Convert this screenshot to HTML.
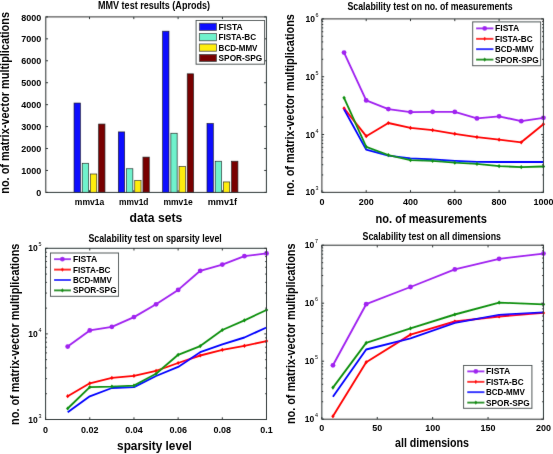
<!DOCTYPE html>
<html><head><meta charset="utf-8"><title>Scalability results</title>
<style>html,body{margin:0;padding:0;background:#fff;}svg{display:block;}</style>
</head><body>
<svg width="553" height="454" viewBox="0 0 553 454" font-family='"Liberation Sans", Arial, Helvetica, sans-serif' fill="#000">
<defs><filter id="bl" filterUnits="userSpaceOnUse" x="0" y="0" width="553" height="454"><feConvolveMatrix order="3" kernelMatrix="0.0072 0.0847 0.0072 0.0847 1 0.0847 0.0072 0.0847 0.0072" edgeMode="none"/></filter><filter id="bl2" filterUnits="userSpaceOnUse" x="0" y="0" width="553" height="454"><feConvolveMatrix order="3" kernelMatrix="0.001 0.0314 0.001 0.0314 1 0.0314 0.001 0.0314 0.001" edgeMode="none"/></filter></defs>
<rect width="553" height="454" fill="#fff"/>
<g filter="url(#bl)">
<rect x="74.05" y="103.05" width="6.3" height="89.35" fill="#0a0aff" stroke="#202020" stroke-width="0.7"/>
<rect x="82.25" y="163.29" width="6.3" height="29.11" fill="#70f2cc" stroke="#202020" stroke-width="0.7"/>
<rect x="90.45" y="173.99" width="6.3" height="18.41" fill="#ffee10" stroke="#202020" stroke-width="0.7"/>
<rect x="98.65" y="124.06" width="6.3" height="68.34" fill="#780000" stroke="#202020" stroke-width="0.7"/>
<rect x="118.35" y="131.92" width="6.3" height="60.48" fill="#0a0aff" stroke="#202020" stroke-width="0.7"/>
<rect x="126.55" y="168.75" width="6.3" height="23.65" fill="#70f2cc" stroke="#202020" stroke-width="0.7"/>
<rect x="134.75" y="180.6" width="6.3" height="11.8" fill="#ffee10" stroke="#202020" stroke-width="0.7"/>
<rect x="142.95" y="157.12" width="6.3" height="35.28" fill="#780000" stroke="#202020" stroke-width="0.7"/>
<rect x="162.65" y="31.2" width="6.3" height="161.2" fill="#0a0aff" stroke="#202020" stroke-width="0.7"/>
<rect x="170.85" y="133.26" width="6.3" height="59.14" fill="#70f2cc" stroke="#202020" stroke-width="0.7"/>
<rect x="179.05" y="166.58" width="6.3" height="25.82" fill="#ffee10" stroke="#202020" stroke-width="0.7"/>
<rect x="187.25" y="73.83" width="6.3" height="118.57" fill="#780000" stroke="#202020" stroke-width="0.7"/>
<rect x="207" y="123.52" width="6.3" height="68.88" fill="#0a0aff" stroke="#202020" stroke-width="0.7"/>
<rect x="215.2" y="161.25" width="6.3" height="31.15" fill="#70f2cc" stroke="#202020" stroke-width="0.7"/>
<rect x="223.4" y="181.94" width="6.3" height="10.46" fill="#ffee10" stroke="#202020" stroke-width="0.7"/>
<rect x="231.6" y="161.25" width="6.3" height="31.15" fill="#780000" stroke="#202020" stroke-width="0.7"/>
<rect x="45.8" y="16.9" width="220.6" height="175.5" fill="none" stroke="#2e3434" stroke-width="1.0"/>
<path d="M89.5 192.4v-2.2M89.5 16.9v2.2M133.8 192.4v-2.2M133.8 16.9v2.2M178.1 192.4v-2.2M178.1 16.9v2.2M222.45 192.4v-2.2M222.45 16.9v2.2" stroke="#2e3434" stroke-width="1.0" fill="none"/>
<path d="M45.8 192.4h2.2M266.4 192.4h-2.2M45.8 170.46h2.2M266.4 170.46h-2.2M45.8 148.53h2.2M266.4 148.53h-2.2M45.8 126.59h2.2M266.4 126.59h-2.2M45.8 104.65h2.2M266.4 104.65h-2.2M45.8 82.71h2.2M266.4 82.71h-2.2M45.8 60.78h2.2M266.4 60.78h-2.2M45.8 38.84h2.2M266.4 38.84h-2.2M45.8 16.9h2.2M266.4 16.9h-2.2" stroke="#2e3434" stroke-width="1.0" fill="none"/>
<rect x="196.1" y="20.5" width="68.4" height="43.7" fill="#fff" stroke="#4a5252" stroke-width="1.0"/>
<rect x="199.3" y="23.2" width="17.2" height="7.2" fill="#0a0aff" stroke="#202020" stroke-width="0.7"/>
<rect x="199.3" y="33.6" width="17.2" height="7.2" fill="#70f2cc" stroke="#202020" stroke-width="0.7"/>
<rect x="199.3" y="44" width="17.2" height="7.2" fill="#ffee10" stroke="#202020" stroke-width="0.7"/>
<rect x="199.3" y="54.4" width="17.2" height="7.2" fill="#780000" stroke="#202020" stroke-width="0.7"/>
<polyline points="344.05,52.6 366.2,100.4 388.35,109.1 410.5,112.1 432.65,111.8 454.8,111.9 476.95,118.4 499.1,116.3 521.25,121.2 543.4,117.8" fill="none" stroke="#a020f0" stroke-width="1.85" stroke-linejoin="round"/>
<circle cx="344.05" cy="52.6" r="2.4" fill="#a020f0"/>
<circle cx="366.2" cy="100.4" r="2.4" fill="#a020f0"/>
<circle cx="388.35" cy="109.1" r="2.4" fill="#a020f0"/>
<circle cx="410.5" cy="112.1" r="2.4" fill="#a020f0"/>
<circle cx="432.65" cy="111.8" r="2.4" fill="#a020f0"/>
<circle cx="454.8" cy="111.9" r="2.4" fill="#a020f0"/>
<circle cx="476.95" cy="118.4" r="2.4" fill="#a020f0"/>
<circle cx="499.1" cy="116.3" r="2.4" fill="#a020f0"/>
<circle cx="521.25" cy="121.2" r="2.4" fill="#a020f0"/>
<circle cx="543.4" cy="117.8" r="2.4" fill="#a020f0"/>
<polyline points="344.05,108.3 366.2,136.2 388.35,123 410.5,127.9 432.65,130.2 454.8,133.8 476.95,137.1 499.1,139.7 521.25,142.3 543.4,124.2" fill="none" stroke="#ff0000" stroke-width="1.85" stroke-linejoin="round"/>
<path d="M344.05 106.2L345.75 108.3L344.05 110.4L342.35 108.3Z" fill="#ff0000"/>
<path d="M366.2 134.1L367.9 136.2L366.2 138.3L364.5 136.2Z" fill="#ff0000"/>
<path d="M388.35 120.9L390.05 123L388.35 125.1L386.65 123Z" fill="#ff0000"/>
<path d="M410.5 125.8L412.2 127.9L410.5 130L408.8 127.9Z" fill="#ff0000"/>
<path d="M432.65 128.1L434.35 130.2L432.65 132.3L430.95 130.2Z" fill="#ff0000"/>
<path d="M454.8 131.7L456.5 133.8L454.8 135.9L453.1 133.8Z" fill="#ff0000"/>
<path d="M476.95 135L478.65 137.1L476.95 139.2L475.25 137.1Z" fill="#ff0000"/>
<path d="M499.1 137.6L500.8 139.7L499.1 141.8L497.4 139.7Z" fill="#ff0000"/>
<path d="M521.25 140.2L522.95 142.3L521.25 144.4L519.55 142.3Z" fill="#ff0000"/>
<path d="M543.4 122.1L545.1 124.2L543.4 126.3L541.7 124.2Z" fill="#ff0000"/>
<polyline points="344.05,109.2 366.2,149.6 388.35,155.6 410.5,158.3 432.65,159.4 454.8,160.8 476.95,161.8 499.1,162 521.25,162 543.4,162" fill="none" stroke="#0000ff" stroke-width="1.85" stroke-linejoin="round"/>
<polyline points="344.05,97.8 366.2,146.9 388.35,155.1 410.5,160.2 432.65,160.8 454.8,162.7 476.95,163.9 499.1,166.2 521.25,167.1 543.4,166.5" fill="none" stroke="#109010" stroke-width="1.85" stroke-linejoin="round"/>
<path d="M344.05 95.7L345.75 97.8L344.05 99.9L342.35 97.8Z" fill="#109010"/>
<path d="M366.2 144.8L367.9 146.9L366.2 149L364.5 146.9Z" fill="#109010"/>
<path d="M388.35 153L390.05 155.1L388.35 157.2L386.65 155.1Z" fill="#109010"/>
<path d="M410.5 158.1L412.2 160.2L410.5 162.3L408.8 160.2Z" fill="#109010"/>
<path d="M432.65 158.7L434.35 160.8L432.65 162.9L430.95 160.8Z" fill="#109010"/>
<path d="M454.8 160.6L456.5 162.7L454.8 164.8L453.1 162.7Z" fill="#109010"/>
<path d="M476.95 161.8L478.65 163.9L476.95 166L475.25 163.9Z" fill="#109010"/>
<path d="M499.1 164.1L500.8 166.2L499.1 168.3L497.4 166.2Z" fill="#109010"/>
<path d="M521.25 165L522.95 167.1L521.25 169.2L519.55 167.1Z" fill="#109010"/>
<path d="M543.4 164.4L545.1 166.5L543.4 168.6L541.7 166.5Z" fill="#109010"/>
<rect x="321.9" y="18.9" width="221.5" height="173.45" fill="none" stroke="#2e3434" stroke-width="1.0"/>
<path d="M321.9 192.35v-2.2M321.9 18.9v2.2M366.2 192.35v-2.2M366.2 18.9v2.2M410.5 192.35v-2.2M410.5 18.9v2.2M454.8 192.35v-2.2M454.8 18.9v2.2M499.1 192.35v-2.2M499.1 18.9v2.2M543.4 192.35v-2.2M543.4 18.9v2.2" stroke="#2e3434" stroke-width="1.0" fill="none"/>
<path d="M321.9 192.35h2.2M543.4 192.35h-2.2M321.9 134.53h2.2M543.4 134.53h-2.2M321.9 76.72h2.2M543.4 76.72h-2.2M321.9 18.9h2.2M543.4 18.9h-2.2" stroke="#2e3434" stroke-width="1.0" fill="none"/>
<path d="M321.9 174.95h1.32M543.4 174.95h-1.32M321.9 164.76h1.32M543.4 164.76h-1.32M321.9 157.54h1.32M543.4 157.54h-1.32M321.9 151.94h1.32M543.4 151.94h-1.32M321.9 147.36h1.32M543.4 147.36h-1.32M321.9 143.49h1.32M543.4 143.49h-1.32M321.9 140.14h1.32M543.4 140.14h-1.32M321.9 137.18h1.32M543.4 137.18h-1.32M321.9 117.13h1.32M543.4 117.13h-1.32M321.9 106.95h1.32M543.4 106.95h-1.32M321.9 99.72h1.32M543.4 99.72h-1.32M321.9 94.12h1.32M543.4 94.12h-1.32M321.9 89.54h1.32M543.4 89.54h-1.32M321.9 85.67h1.32M543.4 85.67h-1.32M321.9 82.32h1.32M543.4 82.32h-1.32M321.9 79.36h1.32M543.4 79.36h-1.32M321.9 59.31h1.32M543.4 59.31h-1.32M321.9 49.13h1.32M543.4 49.13h-1.32M321.9 41.91h1.32M543.4 41.91h-1.32M321.9 36.3h1.32M543.4 36.3h-1.32M321.9 31.73h1.32M543.4 31.73h-1.32M321.9 27.86h1.32M543.4 27.86h-1.32M321.9 24.5h1.32M543.4 24.5h-1.32M321.9 21.55h1.32M543.4 21.55h-1.32" stroke="#2e3434" stroke-width="1.0" fill="none"/>
<rect x="472.7" y="21.9" width="67.9" height="43.8" fill="#fff" stroke="#4a5252" stroke-width="1.0"/>
<line x1="476.1" y1="28.4" x2="493.4" y2="28.4" stroke="#a020f0" stroke-width="1.85"/>
<circle cx="484.7" cy="28.4" r="2.4" fill="#a020f0"/>
<line x1="476.1" y1="38.8" x2="493.4" y2="38.8" stroke="#ff0000" stroke-width="1.85"/>
<path d="M484.7 36.7L486.4 38.8L484.7 40.9L483 38.8Z" fill="#ff0000"/>
<line x1="476.1" y1="49.2" x2="493.4" y2="49.2" stroke="#0000ff" stroke-width="1.85"/>
<line x1="476.1" y1="59.6" x2="493.4" y2="59.6" stroke="#109010" stroke-width="1.85"/>
<path d="M484.7 57.5L486.4 59.6L484.7 61.7L483 59.6Z" fill="#109010"/>
<polyline points="67.69,346.6 89.78,330.4 111.87,326.8 133.96,317.1 156.05,304.3 178.14,289.9 200.23,270.8 222.32,264.6 244.41,256.2 266.5,253.4" fill="none" stroke="#a020f0" stroke-width="1.85" stroke-linejoin="round"/>
<circle cx="67.69" cy="346.6" r="2.4" fill="#a020f0"/>
<circle cx="89.78" cy="330.4" r="2.4" fill="#a020f0"/>
<circle cx="111.87" cy="326.8" r="2.4" fill="#a020f0"/>
<circle cx="133.96" cy="317.1" r="2.4" fill="#a020f0"/>
<circle cx="156.05" cy="304.3" r="2.4" fill="#a020f0"/>
<circle cx="178.14" cy="289.9" r="2.4" fill="#a020f0"/>
<circle cx="200.23" cy="270.8" r="2.4" fill="#a020f0"/>
<circle cx="222.32" cy="264.6" r="2.4" fill="#a020f0"/>
<circle cx="244.41" cy="256.2" r="2.4" fill="#a020f0"/>
<circle cx="266.5" cy="253.4" r="2.4" fill="#a020f0"/>
<polyline points="67.69,396.2 89.78,383.3 111.87,377.9 133.96,375.8 156.05,370.9 178.14,363 200.23,355.5 222.32,349.8 244.41,345.8 266.5,341.1" fill="none" stroke="#ff0000" stroke-width="1.85" stroke-linejoin="round"/>
<path d="M67.69 394.1L69.39 396.2L67.69 398.3L65.99 396.2Z" fill="#ff0000"/>
<path d="M89.78 381.2L91.48 383.3L89.78 385.4L88.08 383.3Z" fill="#ff0000"/>
<path d="M111.87 375.8L113.57 377.9L111.87 380L110.17 377.9Z" fill="#ff0000"/>
<path d="M133.96 373.7L135.66 375.8L133.96 377.9L132.26 375.8Z" fill="#ff0000"/>
<path d="M156.05 368.8L157.75 370.9L156.05 373L154.35 370.9Z" fill="#ff0000"/>
<path d="M178.14 360.9L179.84 363L178.14 365.1L176.44 363Z" fill="#ff0000"/>
<path d="M200.23 353.4L201.93 355.5L200.23 357.6L198.53 355.5Z" fill="#ff0000"/>
<path d="M222.32 347.7L224.02 349.8L222.32 351.9L220.62 349.8Z" fill="#ff0000"/>
<path d="M244.41 343.7L246.11 345.8L244.41 347.9L242.71 345.8Z" fill="#ff0000"/>
<path d="M266.5 339L268.2 341.1L266.5 343.2L264.8 341.1Z" fill="#ff0000"/>
<polyline points="67.69,412.2 89.78,396.3 111.87,388 133.96,387.1 156.05,376 178.14,366.9 200.23,352.2 222.32,344.4 244.41,337.5 266.5,327.5" fill="none" stroke="#0000ff" stroke-width="1.85" stroke-linejoin="round"/>
<polyline points="67.69,408.5 89.78,387.1 111.87,386.6 133.96,385.6 156.05,373.8 178.14,354.8 200.23,346.1 222.32,330 244.41,320.3 266.5,310" fill="none" stroke="#109010" stroke-width="1.85" stroke-linejoin="round"/>
<path d="M67.69 406.4L69.39 408.5L67.69 410.6L65.99 408.5Z" fill="#109010"/>
<path d="M89.78 385L91.48 387.1L89.78 389.2L88.08 387.1Z" fill="#109010"/>
<path d="M111.87 384.5L113.57 386.6L111.87 388.7L110.17 386.6Z" fill="#109010"/>
<path d="M133.96 383.5L135.66 385.6L133.96 387.7L132.26 385.6Z" fill="#109010"/>
<path d="M156.05 371.7L157.75 373.8L156.05 375.9L154.35 373.8Z" fill="#109010"/>
<path d="M178.14 352.7L179.84 354.8L178.14 356.9L176.44 354.8Z" fill="#109010"/>
<path d="M200.23 344L201.93 346.1L200.23 348.2L198.53 346.1Z" fill="#109010"/>
<path d="M222.32 327.9L224.02 330L222.32 332.1L220.62 330Z" fill="#109010"/>
<path d="M244.41 318.2L246.11 320.3L244.41 322.4L242.71 320.3Z" fill="#109010"/>
<path d="M266.5 307.9L268.2 310L266.5 312.1L264.8 310Z" fill="#109010"/>
<rect x="45.6" y="248.3" width="220.9" height="171.2" fill="none" stroke="#2e3434" stroke-width="1.0"/>
<path d="M45.6 419.5v-2.2M45.6 248.3v2.2M89.78 419.5v-2.2M89.78 248.3v2.2M133.96 419.5v-2.2M133.96 248.3v2.2M178.14 419.5v-2.2M178.14 248.3v2.2M222.32 419.5v-2.2M222.32 248.3v2.2M266.5 419.5v-2.2M266.5 248.3v2.2" stroke="#2e3434" stroke-width="1.0" fill="none"/>
<path d="M45.6 419.5h2.2M266.5 419.5h-2.2M45.6 333.9h2.2M266.5 333.9h-2.2M45.6 248.3h2.2M266.5 248.3h-2.2" stroke="#2e3434" stroke-width="1.0" fill="none"/>
<path d="M45.6 393.73h1.32M266.5 393.73h-1.32M45.6 378.66h1.32M266.5 378.66h-1.32M45.6 367.96h1.32M266.5 367.96h-1.32M45.6 359.67h1.32M266.5 359.67h-1.32M45.6 352.89h1.32M266.5 352.89h-1.32M45.6 347.16h1.32M266.5 347.16h-1.32M45.6 342.2h1.32M266.5 342.2h-1.32M45.6 337.82h1.32M266.5 337.82h-1.32M45.6 308.13h1.32M266.5 308.13h-1.32M45.6 293.06h1.32M266.5 293.06h-1.32M45.6 282.36h1.32M266.5 282.36h-1.32M45.6 274.07h1.32M266.5 274.07h-1.32M45.6 267.29h1.32M266.5 267.29h-1.32M45.6 261.56h1.32M266.5 261.56h-1.32M45.6 256.6h1.32M266.5 256.6h-1.32M45.6 252.22h1.32M266.5 252.22h-1.32" stroke="#2e3434" stroke-width="1.0" fill="none"/>
<rect x="50.5" y="253" width="68" height="43.3" fill="#fff" stroke="#4a5252" stroke-width="1.0"/>
<line x1="54" y1="259.2" x2="71" y2="259.2" stroke="#a020f0" stroke-width="1.85"/>
<circle cx="62.4" cy="259.2" r="2.4" fill="#a020f0"/>
<line x1="54" y1="269.6" x2="71" y2="269.6" stroke="#ff0000" stroke-width="1.85"/>
<path d="M62.4 267.5L64.1 269.6L62.4 271.7L60.7 269.6Z" fill="#ff0000"/>
<line x1="54" y1="280" x2="71" y2="280" stroke="#0000ff" stroke-width="1.85"/>
<line x1="54" y1="290.4" x2="71" y2="290.4" stroke="#109010" stroke-width="1.85"/>
<path d="M62.4 288.3L64.1 290.4L62.4 292.5L60.7 290.4Z" fill="#109010"/>
<polyline points="332.93,365.3 366.17,304.2 410.49,287 454.81,269.4 499.13,258.8 543.45,253.6" fill="none" stroke="#a020f0" stroke-width="1.85" stroke-linejoin="round"/>
<circle cx="332.93" cy="365.3" r="2.4" fill="#a020f0"/>
<circle cx="366.17" cy="304.2" r="2.4" fill="#a020f0"/>
<circle cx="410.49" cy="287" r="2.4" fill="#a020f0"/>
<circle cx="454.81" cy="269.4" r="2.4" fill="#a020f0"/>
<circle cx="499.13" cy="258.8" r="2.4" fill="#a020f0"/>
<circle cx="543.45" cy="253.6" r="2.4" fill="#a020f0"/>
<polyline points="332.93,416.3 366.17,362.2 410.49,334.6 454.81,321.5 499.13,316.5 543.45,312.9" fill="none" stroke="#ff0000" stroke-width="1.85" stroke-linejoin="round"/>
<path d="M332.93 414.2L334.63 416.3L332.93 418.4L331.23 416.3Z" fill="#ff0000"/>
<path d="M366.17 360.1L367.87 362.2L366.17 364.3L364.47 362.2Z" fill="#ff0000"/>
<path d="M410.49 332.5L412.19 334.6L410.49 336.7L408.79 334.6Z" fill="#ff0000"/>
<path d="M454.81 319.4L456.51 321.5L454.81 323.6L453.11 321.5Z" fill="#ff0000"/>
<path d="M499.13 314.4L500.83 316.5L499.13 318.6L497.43 316.5Z" fill="#ff0000"/>
<path d="M543.45 310.8L545.15 312.9L543.45 315L541.75 312.9Z" fill="#ff0000"/>
<polyline points="332.93,396.8 366.17,349.5 410.49,338.3 454.81,322.9 499.13,314.9 543.45,312.3" fill="none" stroke="#0000ff" stroke-width="1.85" stroke-linejoin="round"/>
<polyline points="332.93,387.6 366.17,342.9 410.49,328.4 454.81,314.5 499.13,302.6 543.45,304.3" fill="none" stroke="#109010" stroke-width="1.85" stroke-linejoin="round"/>
<path d="M332.93 385.5L334.63 387.6L332.93 389.7L331.23 387.6Z" fill="#109010"/>
<path d="M366.17 340.8L367.87 342.9L366.17 345L364.47 342.9Z" fill="#109010"/>
<path d="M410.49 326.3L412.19 328.4L410.49 330.5L408.79 328.4Z" fill="#109010"/>
<path d="M454.81 312.4L456.51 314.5L454.81 316.6L453.11 314.5Z" fill="#109010"/>
<path d="M499.13 300.5L500.83 302.6L499.13 304.7L497.43 302.6Z" fill="#109010"/>
<path d="M543.45 302.2L545.15 304.3L543.45 306.4L541.75 304.3Z" fill="#109010"/>
<rect x="321.85" y="245.2" width="221.6" height="174" fill="none" stroke="#2e3434" stroke-width="1.0"/>
<path d="M321.85 419.2v-2.2M321.85 245.2v2.2M377.25 419.2v-2.2M377.25 245.2v2.2M432.65 419.2v-2.2M432.65 245.2v2.2M488.05 419.2v-2.2M488.05 245.2v2.2M543.45 419.2v-2.2M543.45 245.2v2.2" stroke="#2e3434" stroke-width="1.0" fill="none"/>
<path d="M321.85 419.2h2.2M543.45 419.2h-2.2M321.85 361.2h2.2M543.45 361.2h-2.2M321.85 303.2h2.2M543.45 303.2h-2.2M321.85 245.2h2.2M543.45 245.2h-2.2" stroke="#2e3434" stroke-width="1.0" fill="none"/>
<path d="M321.85 401.74h1.32M543.45 401.74h-1.32M321.85 391.53h1.32M543.45 391.53h-1.32M321.85 384.28h1.32M543.45 384.28h-1.32M321.85 378.66h1.32M543.45 378.66h-1.32M321.85 374.07h1.32M543.45 374.07h-1.32M321.85 370.18h1.32M543.45 370.18h-1.32M321.85 366.82h1.32M543.45 366.82h-1.32M321.85 363.85h1.32M543.45 363.85h-1.32M321.85 343.74h1.32M543.45 343.74h-1.32M321.85 333.53h1.32M543.45 333.53h-1.32M321.85 326.28h1.32M543.45 326.28h-1.32M321.85 320.66h1.32M543.45 320.66h-1.32M321.85 316.07h1.32M543.45 316.07h-1.32M321.85 312.18h1.32M543.45 312.18h-1.32M321.85 308.82h1.32M543.45 308.82h-1.32M321.85 305.85h1.32M543.45 305.85h-1.32M321.85 285.74h1.32M543.45 285.74h-1.32M321.85 275.53h1.32M543.45 275.53h-1.32M321.85 268.28h1.32M543.45 268.28h-1.32M321.85 262.66h1.32M543.45 262.66h-1.32M321.85 258.07h1.32M543.45 258.07h-1.32M321.85 254.18h1.32M543.45 254.18h-1.32M321.85 250.82h1.32M543.45 250.82h-1.32M321.85 247.85h1.32M543.45 247.85h-1.32" stroke="#2e3434" stroke-width="1.0" fill="none"/>
<rect x="463.6" y="365.5" width="68.3" height="42.8" fill="#fff" stroke="#4a5252" stroke-width="1.0"/>
<line x1="467.3" y1="371.4" x2="484.4" y2="371.4" stroke="#a020f0" stroke-width="1.85"/>
<circle cx="475.8" cy="371.4" r="2.4" fill="#a020f0"/>
<line x1="467.3" y1="381.8" x2="484.4" y2="381.8" stroke="#ff0000" stroke-width="1.85"/>
<path d="M475.8 379.7L477.5 381.8L475.8 383.9L474.1 381.8Z" fill="#ff0000"/>
<line x1="467.3" y1="392.2" x2="484.4" y2="392.2" stroke="#0000ff" stroke-width="1.85"/>
<line x1="467.3" y1="402.6" x2="484.4" y2="402.6" stroke="#109010" stroke-width="1.85"/>
<path d="M475.8 400.5L477.5 402.6L475.8 404.7L474.1 402.6Z" fill="#109010"/>
</g>
<g filter="url(#bl2)">
<text transform="translate(41.2 196) scale(1 1.06)" font-size="9.0" text-anchor="end" font-weight="bold">0</text>
<text transform="translate(41.2 174.06) scale(1 1.06)" font-size="9.0" text-anchor="end" font-weight="bold">1000</text>
<text transform="translate(41.2 152.12) scale(1 1.06)" font-size="9.0" text-anchor="end" font-weight="bold">2000</text>
<text transform="translate(41.2 130.19) scale(1 1.06)" font-size="9.0" text-anchor="end" font-weight="bold">3000</text>
<text transform="translate(41.2 108.25) scale(1 1.06)" font-size="9.0" text-anchor="end" font-weight="bold">4000</text>
<text transform="translate(41.2 86.31) scale(1 1.06)" font-size="9.0" text-anchor="end" font-weight="bold">5000</text>
<text transform="translate(41.2 64.38) scale(1 1.06)" font-size="9.0" text-anchor="end" font-weight="bold">6000</text>
<text transform="translate(41.2 42.44) scale(1 1.06)" font-size="9.0" text-anchor="end" font-weight="bold">7000</text>
<text transform="translate(41.2 20.5) scale(1 1.06)" font-size="9.0" text-anchor="end" font-weight="bold">8000</text>
<text transform="translate(89.5 204.8) scale(1 1.06)" font-size="9.0" text-anchor="middle" font-weight="bold" textLength="29.4" lengthAdjust="spacingAndGlyphs">mmv1a</text>
<text transform="translate(133.8 204.8) scale(1 1.06)" font-size="9.0" text-anchor="middle" font-weight="bold" textLength="29.4" lengthAdjust="spacingAndGlyphs">mmv1d</text>
<text transform="translate(178.1 204.8) scale(1 1.06)" font-size="9.0" text-anchor="middle" font-weight="bold" textLength="29.4" lengthAdjust="spacingAndGlyphs">mmv1e</text>
<text transform="translate(222.45 204.8) scale(1 1.06)" font-size="9.0" text-anchor="middle" font-weight="bold" textLength="29.4" lengthAdjust="spacingAndGlyphs">mmv1f</text>
<text x="218.6" y="29.8" font-size="8.2" text-anchor="start" font-weight="bold" textLength="24.2" lengthAdjust="spacingAndGlyphs">FISTA</text>
<text x="218.6" y="40.2" font-size="8.2" text-anchor="start" font-weight="bold" textLength="37.6" lengthAdjust="spacingAndGlyphs">FISTA-BC</text>
<text x="218.6" y="50.6" font-size="8.2" text-anchor="start" font-weight="bold" textLength="38.9" lengthAdjust="spacingAndGlyphs">BCD-MMV</text>
<text x="218.6" y="61" font-size="8.2" text-anchor="start" font-weight="bold" textLength="43.7" lengthAdjust="spacingAndGlyphs">SPOR-SPG</text>
<text transform="translate(154 8.8) scale(1 1.14)" font-size="9.0" font-weight="bold" text-anchor="middle" textLength="112" lengthAdjust="spacingAndGlyphs">MMV test results (Aprods)</text>
<text x="155.9" y="222.1" font-size="12.0" font-weight="bold" text-anchor="middle" textLength="52.8" lengthAdjust="spacingAndGlyphs">data sets</text>
<text transform="translate(9.3,102.85) rotate(-90)" x="0" y="0" font-size="12.0" font-weight="bold" text-anchor="middle" textLength="181.7" lengthAdjust="spacingAndGlyphs">no. of matrix-vector multiplications</text>
<text transform="translate(321.9 204.9) scale(1 1.06)" font-size="9.0" text-anchor="middle" font-weight="bold">0</text>
<text transform="translate(366.2 204.9) scale(1 1.06)" font-size="9.0" text-anchor="middle" font-weight="bold">200</text>
<text transform="translate(410.5 204.9) scale(1 1.06)" font-size="9.0" text-anchor="middle" font-weight="bold">400</text>
<text transform="translate(454.8 204.9) scale(1 1.06)" font-size="9.0" text-anchor="middle" font-weight="bold">600</text>
<text transform="translate(499.1 204.9) scale(1 1.06)" font-size="9.0" text-anchor="middle" font-weight="bold">800</text>
<text transform="translate(543.4 204.9) scale(1 1.06)" font-size="9.0" text-anchor="middle" font-weight="bold">1000</text>
<text transform="translate(314.9 195.35) scale(1 1.06)" font-size="9.0" text-anchor="end" font-weight="bold" textLength="9.5" lengthAdjust="spacingAndGlyphs">10</text>
<text x="315.6" y="190.45" font-size="5.4">3</text>
<text transform="translate(314.9 137.53) scale(1 1.06)" font-size="9.0" text-anchor="end" font-weight="bold" textLength="9.5" lengthAdjust="spacingAndGlyphs">10</text>
<text x="315.6" y="132.63" font-size="5.4">4</text>
<text transform="translate(314.9 79.72) scale(1 1.06)" font-size="9.0" text-anchor="end" font-weight="bold" textLength="9.5" lengthAdjust="spacingAndGlyphs">10</text>
<text x="315.6" y="74.82" font-size="5.4">5</text>
<text transform="translate(314.9 21.9) scale(1 1.06)" font-size="9.0" text-anchor="end" font-weight="bold" textLength="9.5" lengthAdjust="spacingAndGlyphs">10</text>
<text x="315.6" y="17" font-size="5.4">6</text>
<text x="495" y="31.4" font-size="8.2" text-anchor="start" font-weight="bold" textLength="24.2" lengthAdjust="spacingAndGlyphs">FISTA</text>
<text x="495" y="41.8" font-size="8.2" text-anchor="start" font-weight="bold" textLength="37.6" lengthAdjust="spacingAndGlyphs">FISTA-BC</text>
<text x="495" y="52.2" font-size="8.2" text-anchor="start" font-weight="bold" textLength="38.9" lengthAdjust="spacingAndGlyphs">BCD-MMV</text>
<text x="495" y="62.6" font-size="8.2" text-anchor="start" font-weight="bold" textLength="43.7" lengthAdjust="spacingAndGlyphs">SPOR-SPG</text>
<text transform="translate(430 9.8) scale(1 1.14)" font-size="9.0" font-weight="bold" text-anchor="middle" textLength="165" lengthAdjust="spacingAndGlyphs">Scalability test on no. of measurements</text>
<text x="431.15" y="222.5" font-size="12.0" font-weight="bold" text-anchor="middle" textLength="111.3" lengthAdjust="spacingAndGlyphs">no. of measurements</text>
<text transform="translate(294,104.9) rotate(-90)" x="0" y="0" font-size="12.0" font-weight="bold" text-anchor="middle" textLength="181.6" lengthAdjust="spacingAndGlyphs">no. of matrix-vector multiplications</text>
<text transform="translate(45.6 432.6) scale(1 1.06)" font-size="9.0" text-anchor="middle" font-weight="bold">0</text>
<text transform="translate(89.78 432.6) scale(1 1.06)" font-size="9.0" text-anchor="middle" font-weight="bold">0.02</text>
<text transform="translate(133.96 432.6) scale(1 1.06)" font-size="9.0" text-anchor="middle" font-weight="bold">0.04</text>
<text transform="translate(178.14 432.6) scale(1 1.06)" font-size="9.0" text-anchor="middle" font-weight="bold">0.06</text>
<text transform="translate(222.32 432.6) scale(1 1.06)" font-size="9.0" text-anchor="middle" font-weight="bold">0.08</text>
<text transform="translate(266.5 432.6) scale(1 1.06)" font-size="9.0" text-anchor="middle" font-weight="bold">0.1</text>
<text transform="translate(37.7 422.5) scale(1 1.06)" font-size="9.0" text-anchor="end" font-weight="bold" textLength="9.5" lengthAdjust="spacingAndGlyphs">10</text>
<text x="38.4" y="417.6" font-size="5.4">3</text>
<text transform="translate(37.7 336.9) scale(1 1.06)" font-size="9.0" text-anchor="end" font-weight="bold" textLength="9.5" lengthAdjust="spacingAndGlyphs">10</text>
<text x="38.4" y="332" font-size="5.4">4</text>
<text transform="translate(37.7 251.3) scale(1 1.06)" font-size="9.0" text-anchor="end" font-weight="bold" textLength="9.5" lengthAdjust="spacingAndGlyphs">10</text>
<text x="38.4" y="246.4" font-size="5.4">5</text>
<text x="72.9" y="262.2" font-size="8.2" text-anchor="start" font-weight="bold" textLength="24.2" lengthAdjust="spacingAndGlyphs">FISTA</text>
<text x="72.9" y="272.6" font-size="8.2" text-anchor="start" font-weight="bold" textLength="37.6" lengthAdjust="spacingAndGlyphs">FISTA-BC</text>
<text x="72.9" y="283" font-size="8.2" text-anchor="start" font-weight="bold" textLength="38.9" lengthAdjust="spacingAndGlyphs">BCD-MMV</text>
<text x="72.9" y="293.4" font-size="8.2" text-anchor="start" font-weight="bold" textLength="43.7" lengthAdjust="spacingAndGlyphs">SPOR-SPG</text>
<text transform="translate(155.1 241.7) scale(1 1.14)" font-size="9.0" font-weight="bold" text-anchor="middle" textLength="133.4" lengthAdjust="spacingAndGlyphs">Scalability test on sparsity level</text>
<text x="154.45" y="449.6" font-size="12.0" font-weight="bold" text-anchor="middle" textLength="74.7" lengthAdjust="spacingAndGlyphs">sparsity level</text>
<text transform="translate(18.9,334.25) rotate(-90)" x="0" y="0" font-size="12.0" font-weight="bold" text-anchor="middle" textLength="181.3" lengthAdjust="spacingAndGlyphs">no. of matrix-vector multiplications</text>
<text transform="translate(321.85 430.8) scale(1 1.06)" font-size="9.0" text-anchor="middle" font-weight="bold">0</text>
<text transform="translate(377.25 430.8) scale(1 1.06)" font-size="9.0" text-anchor="middle" font-weight="bold">50</text>
<text transform="translate(432.65 430.8) scale(1 1.06)" font-size="9.0" text-anchor="middle" font-weight="bold">100</text>
<text transform="translate(488.05 430.8) scale(1 1.06)" font-size="9.0" text-anchor="middle" font-weight="bold">150</text>
<text transform="translate(543.45 430.8) scale(1 1.06)" font-size="9.0" text-anchor="middle" font-weight="bold">200</text>
<text transform="translate(314.3 422.2) scale(1 1.06)" font-size="9.0" text-anchor="end" font-weight="bold" textLength="9.5" lengthAdjust="spacingAndGlyphs">10</text>
<text x="315" y="417.3" font-size="5.4">4</text>
<text transform="translate(314.3 364.2) scale(1 1.06)" font-size="9.0" text-anchor="end" font-weight="bold" textLength="9.5" lengthAdjust="spacingAndGlyphs">10</text>
<text x="315" y="359.3" font-size="5.4">5</text>
<text transform="translate(314.3 306.2) scale(1 1.06)" font-size="9.0" text-anchor="end" font-weight="bold" textLength="9.5" lengthAdjust="spacingAndGlyphs">10</text>
<text x="315" y="301.3" font-size="5.4">6</text>
<text transform="translate(314.3 248.2) scale(1 1.06)" font-size="9.0" text-anchor="end" font-weight="bold" textLength="9.5" lengthAdjust="spacingAndGlyphs">10</text>
<text x="315" y="243.3" font-size="5.4">7</text>
<text x="486" y="374.4" font-size="8.2" text-anchor="start" font-weight="bold" textLength="24.2" lengthAdjust="spacingAndGlyphs">FISTA</text>
<text x="486" y="384.8" font-size="8.2" text-anchor="start" font-weight="bold" textLength="37.6" lengthAdjust="spacingAndGlyphs">FISTA-BC</text>
<text x="486" y="395.2" font-size="8.2" text-anchor="start" font-weight="bold" textLength="38.9" lengthAdjust="spacingAndGlyphs">BCD-MMV</text>
<text x="486" y="405.6" font-size="8.2" text-anchor="start" font-weight="bold" textLength="43.7" lengthAdjust="spacingAndGlyphs">SPOR-SPG</text>
<text transform="translate(431.75 239.5) scale(1 1.14)" font-size="9.0" font-weight="bold" text-anchor="middle" textLength="138.3" lengthAdjust="spacingAndGlyphs">Scalability test on all dimensions</text>
<text x="432" y="446.6" font-size="12.0" font-weight="bold" text-anchor="middle" textLength="74" lengthAdjust="spacingAndGlyphs">all dimensions</text>
<text transform="translate(294.8,333.8) rotate(-90)" x="0" y="0" font-size="12.0" font-weight="bold" text-anchor="middle" textLength="180.4" lengthAdjust="spacingAndGlyphs">no. of matrix-vector multiplications</text>
</g></svg>
</body></html>
